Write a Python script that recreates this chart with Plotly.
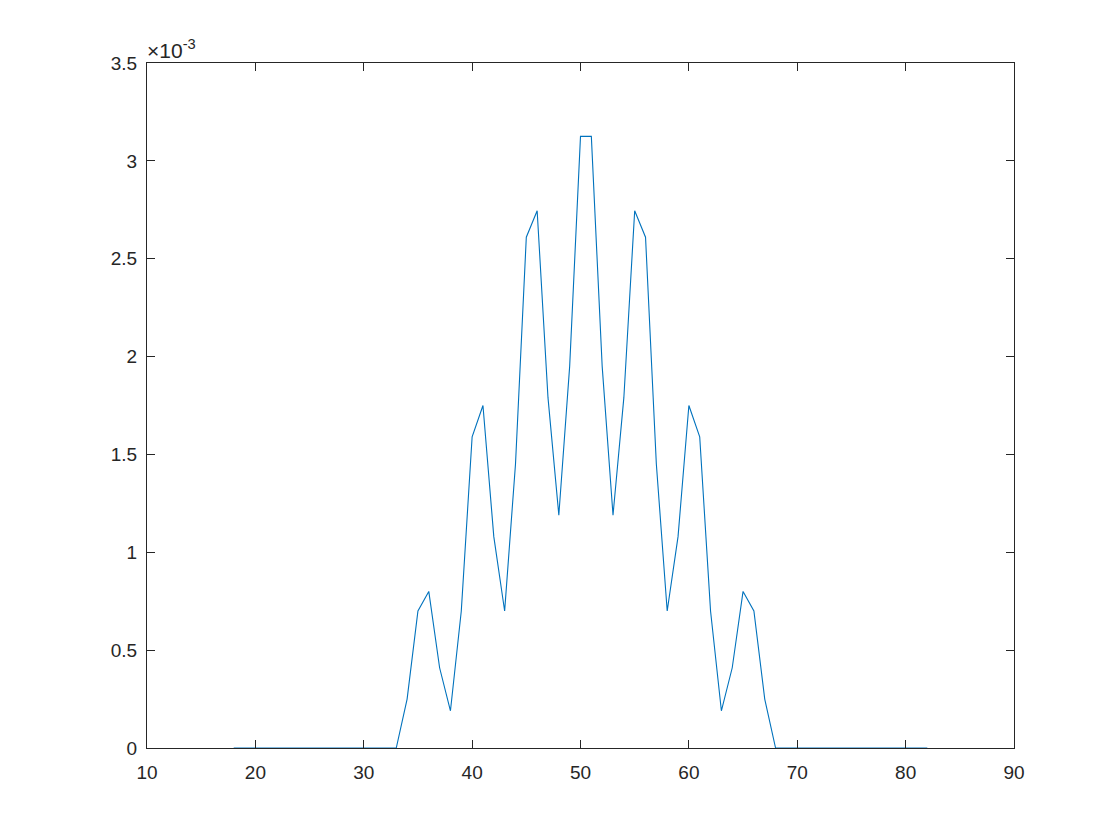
import plotly.graph_objects as go

# x positions (integers 18..82)
x_vals = list(range(18, 83))

# values in units of 1e-3, for x = 34..50 (left half; right half mirrors around 50.5)
left_half = [0.25, 0.70, 0.80, 0.41, 0.19, 0.70, 1.59, 1.75, 1.08, 0.70,
             1.45, 2.61, 2.745, 1.79, 1.19, 1.95, 3.125]
zeros_left = [0.0] * (34 - 18)          # x = 18..33
zeros_right = [0.0] * (82 - 67)         # x = 68..82
y_milli = zeros_left + left_half + left_half[::-1] + zeros_right
y_vals = [v * 1e-3 for v in y_milli]

x_ticks = [10, 20, 30, 40, 50, 60, 70, 80, 90]
y_tick_labels = ["0", "0.5", "1", "1.5", "2", "2.5", "3", "3.5"]
y_ticks = [float(t) * 1e-3 for t in y_tick_labels]

font = dict(family="Liberation Sans, Helvetica, Arial, sans-serif", size=19, color="#262626")

fig = go.Figure()
fig.add_trace(go.Scatter(x=x_vals, y=y_vals, mode="lines",
                         line=dict(color="#0072BD", width=1.1),
                         showlegend=False, hoverinfo="x+y"))

axis_common = dict(showline=True, linecolor="#262626", linewidth=1, mirror="ticks",
                   ticks="inside", ticklen=8, tickwidth=1, tickcolor="#262626",
                   showgrid=False, zeroline=False, tickfont=font)

fig.update_xaxes(range=[10, 90], tickvals=x_ticks,
                 ticktext=[str(t) for t in x_ticks], ticklabelstandoff=7, **axis_common)
fig.update_yaxes(range=[0, 3.5e-3], tickvals=y_ticks, ticktext=y_tick_labels,
                 ticklabelstandoff=5, **axis_common)

fig.add_annotation(text="×10<sup>-3</sup>", xref="paper", yref="paper", x=0, y=1,
                   xanchor="left", yanchor="bottom", showarrow=False,
                   font=dict(family=font["family"], size=21, color="#262626"),
                   yshift=-1, xshift=-2)

fig.update_layout(width=1120, height=840, margin=dict(l=139, r=114, t=55, b=100),
                  paper_bgcolor="white", plot_bgcolor="white")

fig.write_html("out.html")
